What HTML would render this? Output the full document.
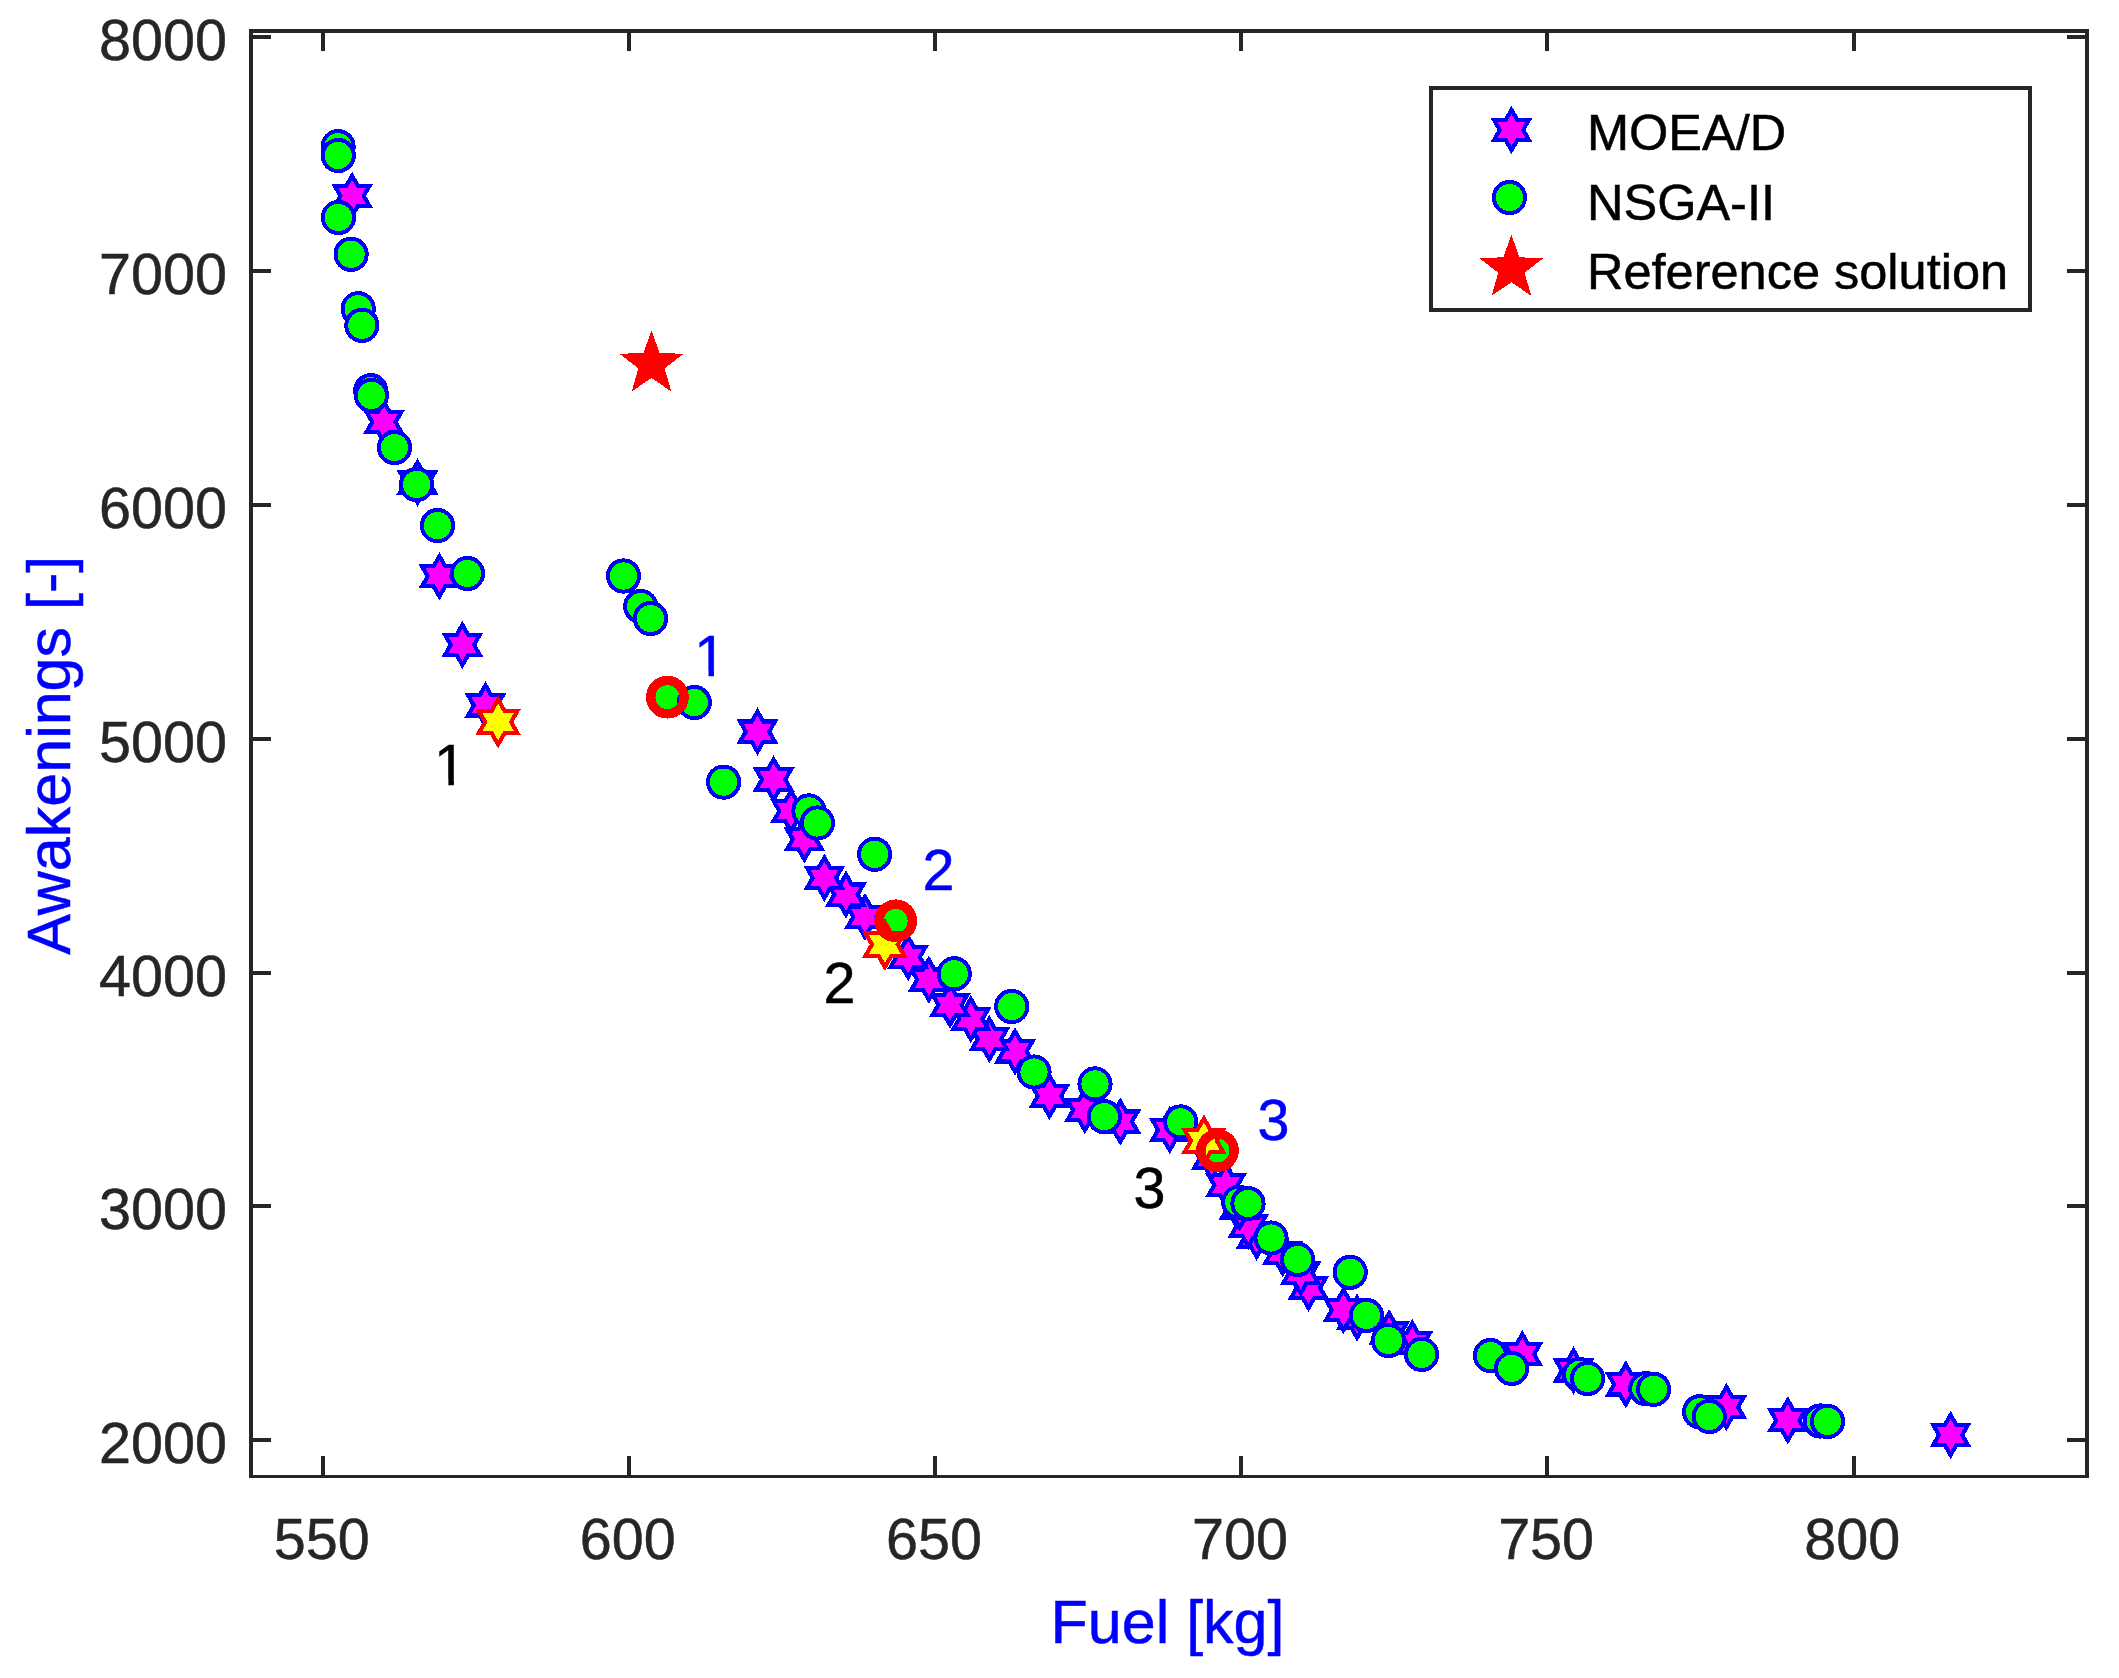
<!DOCTYPE html>
<html lang="en"><head><meta charset="utf-8"><title>Pareto fronts: MOEA/D vs NSGA-II</title>
<style>
html,body{margin:0;padding:0;background:#fff;}
body{width:2119px;height:1678px;overflow:hidden;}
svg{display:block;}
text{font-family:"Liberation Sans",sans-serif;}
.tick{font-size:57.5px;fill:#262626;stroke:#262626;stroke-width:.5px;}
.lab{font-size:61px;fill:#0000ff;stroke:#0000ff;stroke-width:.5px;}
.leg{font-size:50.5px;fill:#000;stroke:#000;stroke-width:.5px;}
.ann{font-size:57.5px;stroke-width:.5px;}
.hx{fill:#ff00ff;stroke:#0000ff;stroke-width:4.1;stroke-miterlimit:10;}
.yh{fill:#ffff00;stroke:#ff0000;stroke-width:4.1;stroke-miterlimit:10;}
.ci{fill:#00ff00;stroke:#0000ff;stroke-width:4.0;}
.rg{fill:none;stroke:#ff0000;stroke-width:9.45;}
.st{fill:#ff0000;stroke:none;}
</style></head><body>
<svg width="2119" height="1678" viewBox="0 0 2119 1678">
<defs>
<path id="hx" d="M0.00,-20.15L5.82,-10.07L17.45,-10.07L11.63,0.00L17.45,10.07L5.82,10.07L0.00,20.15L-5.82,10.08L-17.45,10.07L-11.63,0.00L-17.45,-10.08L-5.82,-10.07Z"/>
<path id="yh" d="M0.00,-22.40L6.47,-11.20L19.40,-11.20L12.93,0.00L19.40,11.20L6.47,11.20L0.00,22.40L-6.47,11.20L-19.40,11.20L-12.93,0.00L-19.40,-11.20L-6.47,-11.20Z"/>
<path id="st" d="M0.00,-33.70L8.12,-11.18L32.05,-10.41L13.14,4.27L19.81,27.26L0.00,13.82L-19.81,27.26L-13.14,4.27L-32.05,-10.41L-8.12,-11.18Z"/>
</defs>
<rect width="2119" height="1678" fill="#fff"/>
<path shape-rendering="crispEdges" fill="#262626" fill-rule="evenodd" d="M249,29H2089V1478H249ZM253,33V1475H2085V33ZM321,1456h4v19h-4zM321,33h4v18h-4zM627,1456h4v19h-4zM627,33h4v18h-4zM933,1456h4v19h-4zM933,33h4v18h-4zM1239,1456h4v19h-4zM1239,33h4v18h-4zM1545,1456h4v19h-4zM1545,33h4v18h-4zM1852,1456h4v19h-4zM1852,33h4v18h-4zM253,35h18v4h-18zM2067,35h18v4h-18zM253,269h18v4h-18zM2067,269h18v4h-18zM253,503h18v4h-18zM2067,503h18v4h-18zM253,737h18v4h-18zM2067,737h18v4h-18zM253,971h18v4h-18zM2067,971h18v4h-18zM253,1204h18v4h-18zM2067,1204h18v4h-18zM253,1438h18v4h-18zM2067,1438h18v4h-18z"/>
<g class="tick" text-anchor="middle">
<text x="321.7" y="1559">550</text>
<text x="627.8" y="1559">600</text>
<text x="933.9" y="1559">650</text>
<text x="1240" y="1559">700</text>
<text x="1546.1" y="1559">750</text>
<text x="1852.2" y="1559">800</text>
</g>
<g class="tick" text-anchor="end">
<text x="227" y="60">8000</text>
<text x="227" y="294">7000</text>
<text x="227" y="528">6000</text>
<text x="227" y="762">5000</text>
<text x="227" y="996">4000</text>
<text x="227" y="1229">3000</text>
<text x="227" y="1463">2000</text>
</g>
<text class="lab" text-anchor="middle" x="1167.5" y="1642.6">Fuel [kg]</text>
<text class="lab" text-anchor="middle" transform="translate(70.3,755.3) rotate(-90)">Awakenings [-]</text>
<g shape-rendering="crispEdges">
<g class="hx">
<use href="#hx" x="1950.6" y="1435"/>
<use href="#hx" x="1787.8" y="1420.3"/>
<use href="#hx" x="1726.4" y="1407.1"/>
<use href="#hx" x="1625.8" y="1384.4"/>
<use href="#hx" x="1573.5" y="1370.5"/>
<use href="#hx" x="1522.4" y="1354.2"/>
<use href="#hx" x="1412.4" y="1343.2"/>
<use href="#hx" x="1389.2" y="1333.3"/>
<use href="#hx" x="1357.1" y="1317.6"/>
<use href="#hx" x="1343.5" y="1310"/>
<use href="#hx" x="1308.5" y="1287.8"/>
<use href="#hx" x="1300.7" y="1273"/>
<use href="#hx" x="1282.7" y="1253.2"/>
<use href="#hx" x="1256.7" y="1236.6"/>
<use href="#hx" x="1248.3" y="1226"/>
<use href="#hx" x="1239.7" y="1207.4"/>
<use href="#hx" x="1226" y="1185.2"/>
<use href="#hx" x="1211.5" y="1158.3"/>
<use href="#hx" x="1169.7" y="1130"/>
<use href="#hx" x="1120.3" y="1121.6"/>
<use href="#hx" x="1084.8" y="1110.1"/>
<use href="#hx" x="1049.5" y="1096"/>
<use href="#hx" x="1015" y="1051.4"/>
<use href="#hx" x="989.4" y="1039.2"/>
<use href="#hx" x="970.8" y="1019"/>
<use href="#hx" x="950" y="1004.8"/>
<use href="#hx" x="928.8" y="979.6"/>
<use href="#hx" x="908.1" y="957"/>
<use href="#hx" x="865" y="916.9"/>
<use href="#hx" x="846" y="894.6"/>
<use href="#hx" x="824.4" y="877.8"/>
<use href="#hx" x="804.4" y="839.3"/>
<use href="#hx" x="791" y="811"/>
<use href="#hx" x="773.6" y="779.5"/>
<use href="#hx" x="757.5" y="731.6"/>
<use href="#hx" x="485.5" y="705.4"/>
<use href="#hx" x="462.4" y="644.9"/>
<use href="#hx" x="439.4" y="576.3"/>
<use href="#hx" x="417.5" y="482.4"/>
<use href="#hx" x="383.9" y="422.1"/>
<use href="#hx" x="352.1" y="195.9"/>
</g>
<g class="ci">
<circle cx="338.1" cy="146.7" r="15.6"/>
<circle cx="338.2" cy="155.5" r="15.6"/>
<circle cx="338.4" cy="217.5" r="15.6"/>
<circle cx="351.1" cy="254.3" r="15.6"/>
<circle cx="358.2" cy="308.8" r="15.6"/>
<circle cx="361.9" cy="325.3" r="15.6"/>
<circle cx="370.7" cy="390.6" r="15.6"/>
<circle cx="371.4" cy="395.4" r="15.6"/>
<circle cx="394.5" cy="447.5" r="15.6"/>
<circle cx="416.6" cy="484.5" r="15.6"/>
<circle cx="437.5" cy="525.6" r="15.6"/>
<circle cx="467.4" cy="573.5" r="15.6"/>
<circle cx="623.5" cy="576" r="15.6"/>
<circle cx="640.7" cy="606.5" r="15.6"/>
<circle cx="650.5" cy="618.5" r="15.6"/>
<circle cx="667.4" cy="697.2" r="15.6"/>
<circle cx="694.3" cy="702.5" r="15.6"/>
<circle cx="723.6" cy="782.1" r="15.6"/>
<circle cx="808.9" cy="810.9" r="15.6"/>
<circle cx="817.4" cy="823" r="15.6"/>
<circle cx="874.6" cy="854.3" r="15.6"/>
<circle cx="895.7" cy="920.8" r="15.6"/>
<circle cx="954.2" cy="973.8" r="15.6"/>
<circle cx="1011.7" cy="1006.5" r="15.6"/>
<circle cx="1034" cy="1072" r="15.6"/>
<circle cx="1095" cy="1083.9" r="15.6"/>
<circle cx="1104.3" cy="1116.6" r="15.6"/>
<circle cx="1180.8" cy="1121.9" r="15.6"/>
<circle cx="1217.5" cy="1150.3" r="15.6"/>
<circle cx="1238.8" cy="1202.2" r="15.6"/>
<circle cx="1248" cy="1203.5" r="15.6"/>
<circle cx="1271" cy="1238" r="15.6"/>
<circle cx="1297.6" cy="1259.5" r="15.6"/>
<circle cx="1350.2" cy="1272.3" r="15.6"/>
<circle cx="1366.4" cy="1315.5" r="15.6"/>
<circle cx="1388.4" cy="1340.5" r="15.6"/>
<circle cx="1421.6" cy="1354.4" r="15.6"/>
<circle cx="1490.5" cy="1355.6" r="15.6"/>
<circle cx="1511.6" cy="1368.4" r="15.6"/>
<circle cx="1579.6" cy="1374.4" r="15.6"/>
<circle cx="1587.6" cy="1378.5" r="15.6"/>
<circle cx="1645.8" cy="1388.6" r="15.6"/>
<circle cx="1653.6" cy="1389.3" r="15.6"/>
<circle cx="1699.6" cy="1411.8" r="15.6"/>
<circle cx="1709.3" cy="1416.5" r="15.6"/>
<circle cx="1820.3" cy="1421" r="15.6"/>
<circle cx="1827.5" cy="1421.4" r="15.6"/>
</g>
<use class="st" href="#st" x="651.5" y="364.2"/>
<g class="yh">
<use href="#yh" x="498.1" y="722"/>
<use href="#yh" x="884.9" y="944.6"/>
<use href="#yh" x="1203.9" y="1140.9"/>
</g>
<g class="rg">
<circle cx="667.4" cy="697.2" r="16.65"/>
<circle cx="895.7" cy="920.8" r="16.65"/>
<circle cx="1217.5" cy="1150.5" r="16.65"/>
</g>
</g>
<g class="ann" text-anchor="middle">
<clipPath id="c1a"><path d="M680.2,615.8H740.2V670.4H714V678.8H708.5V670.4H680.2Z"/></clipPath>
<text clip-path="url(#c1a)" fill="#0000ff" stroke="#0000ff" x="710.2" y="675.8">1</text>
<text fill="#0000ff" stroke="#0000ff" x="938.5" y="889.8">2</text>
<text fill="#0000ff" stroke="#0000ff" x="1273.5" y="1140.2">3</text>
<clipPath id="c1b"><path d="M420.1,724.7H480.1V779.3H453.9V787.7H448.4V779.3H420.1Z"/></clipPath>
<text clip-path="url(#c1b)" fill="#000" stroke="#000" x="450.1" y="784.7">1</text>
<text fill="#000" stroke="#000" x="839.5" y="1002.7">2</text>
<text fill="#000" stroke="#000" x="1149.5" y="1208.2">3</text>
</g>
<rect x="1431" y="88" width="599" height="222.4" fill="#fff" stroke="#262626" stroke-width="4" shape-rendering="crispEdges"/>
<g shape-rendering="crispEdges">
<use class="hx" href="#hx" x="1511.5" y="130"/>
<circle class="ci" cx="1509.5" cy="197.5" r="15.6"/>
<use class="st" href="#st" x="1511.4" y="268.5"/>
</g>
<g class="leg">
<text x="1587" y="149.8">MOEA/D</text>
<text x="1587" y="219.8">NSGA-II</text>
<text x="1587" y="289">Reference solution</text>
</g>
</svg>
</body></html>
